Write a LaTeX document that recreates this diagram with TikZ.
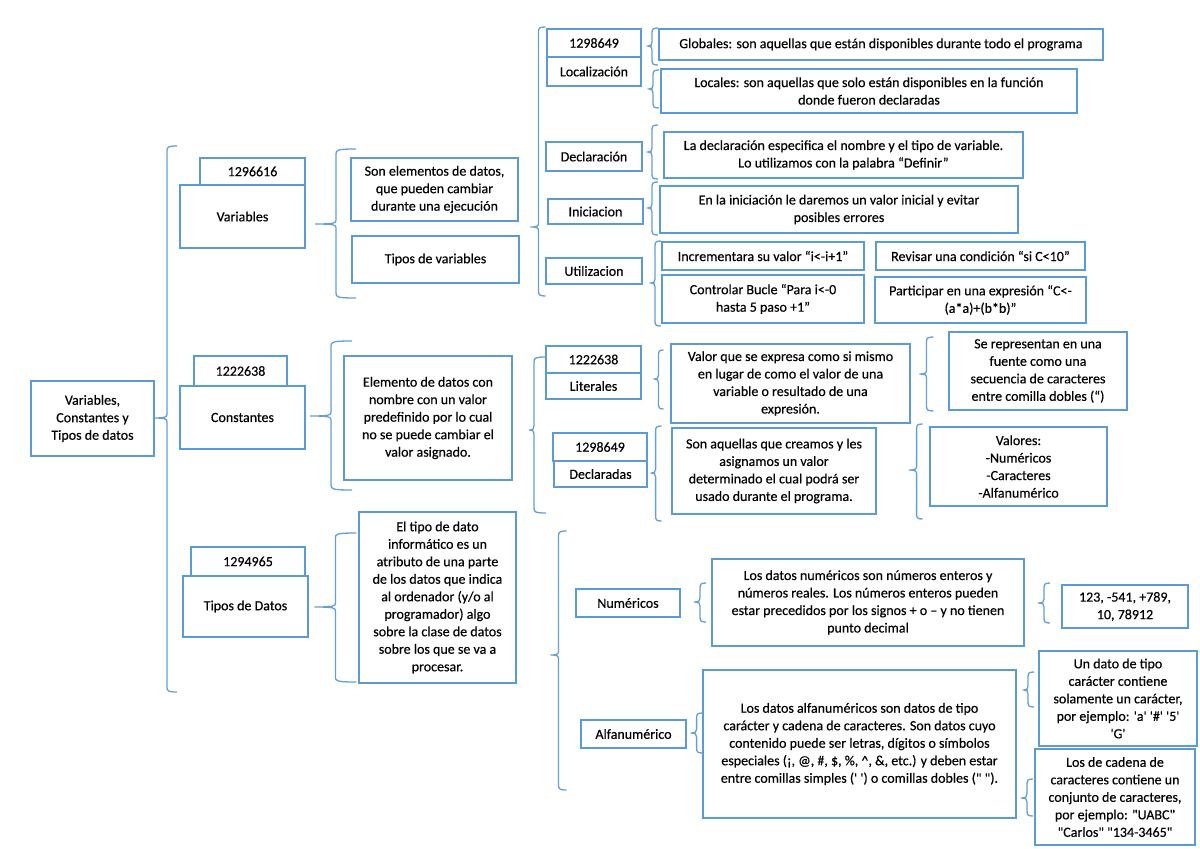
\documentclass[tikz,border=0pt]{standalone}
\usepackage{fontspec}
\setmainfont{Carlito}[FakeBold=0.35]
\definecolor{boxc}{RGB}{91,155,213}
\definecolor{brcc}{RGB}{100,160,215}
\tikzset{
  bx/.style={draw=boxc, line width=2.2pt, rectangle, inner sep=0pt, align=center,
    font=\fontsize{14}{17.5}\selectfont, text=black},
  brc/.style={draw=brcc, line width=1.3pt}
}
\newcommand\bx[6]{\node[bx, minimum width={#4-#2}, minimum height={#5-#3}] (#1) at ({(#2+#4)/2},{(#3+#5)/2}) {#6};}
\newcommand\brc[6]{\draw[brc] ({#1+#5},#2) .. controls ({#1+1},#2) and (#1,{#2+1}) .. (#1,{#2+5})
  -- (#1,{#4-4}) .. controls (#1,{#4-1}) and ({#1-1},#4) .. ({#1-#6},#4)
  .. controls ({#1-1},#4) and (#1,{#4+1}) .. (#1,{#4+4})
  -- (#1,{#3-5}) .. controls (#1,{#3-1}) and ({#1+1},#3) .. ({#1+#5},#3);}
\begin{document}
\begin{tikzpicture}[x=1pt,y=-1pt]
\fill[white] (0,0) rectangle (1200,849);
\useasboundingbox (0,0) rectangle (1200,849);
% braces
\brc{167}{146}{692}{418}{10}{14}
\brc{336}{149}{298}{224}{20}{21}
\brc{538.5}{27}{296}{227}{7}{8}
\brc{652}{28}{65}{46}{6}{4}
\brc{653}{70}{108}{89}{6}{4}
\brc{652}{125}{179}{152}{6}{4}
\brc{652}{182}{235}{208}{6}{4}
\brc{655}{241}{326}{283}{6}{4}
\brc{331}{341}{490}{416}{21}{21}
\brc{534}{357}{513}{430}{12}{5}
\brc{658.5}{350}{409}{379}{5}{5}
\brc{926.5}{337}{411}{374}{7}{7}
\brc{655.6}{426}{521}{473}{6}{5}
\brc{916.6}{424}{519}{470}{6}{8}
\brc{335.4}{533}{682}{607}{21}{21}
\brc{558.5}{531}{790}{655}{8}{8}
\brc{700}{583}{622}{602}{6}{6}
\brc{1044}{583}{623}{603}{6}{6}
\brc{696.6}{713}{753}{733}{6}{6}
\brc{1028}{672}{707}{690}{6}{4}
\brc{1027}{779}{816}{798}{6}{6}
% boxes
\bx{root}{31}{381}{154}{456}{Variables,\\Constantes y\\Tipos de datos}
\bx{nA}{200}{158}{305}{185}{1296616}
\bx{variables}{180}{185}{305}{248}{Variables}
\bx{sonelem}{351}{158}{518}{221}{Son elementos de datos,\\que pueden cambiar\\durante una ejecución}
\bx{tiposvar}{352}{236}{519}{283}{Tipos de variables}
\bx{nB}{547}{29}{641}{57}{1298649}
\bx{localiz}{547}{57}{641}{86}{Localización}
\bx{declar}{546}{142}{642}{171}{Declaración}
\bx{inic}{548}{199}{643}{224}{Iniciacion}
\bx{utiliz}{546}{258}{642}{284}{Utilizacion}
\bx{globales}{659}{29}{1103}{60}{Globales: son aquellas que están disponibles durante todo el programa}
\bx{locales}{661}{69}{1077}{113}{Locales: son aquellas que solo están disponibles en la función\\donde fueron declaradas}
\bx{decltext}{664}{132}{1023}{178}{La declaración especifica el nombre y el tipo de variable.\\Lo utilizamos con la palabra “Definir”}
\bx{inictext}{660}{186}{1018}{233}{En la iniciación le daremos un valor inicial y evitar\\posibles errores}
\bx{incr}{662}{242}{864}{270}{Incrementara su valor “i<-i+1”}
\bx{revisar}{876}{242}{1085}{270}{Revisar una condición “si C<10”}
\bx{controlar}{662}{275}{864}{323}{Controlar Bucle “Para i<-0\\hasta 5 paso +1”}
\bx{particip}{875}{277}{1086}{323}{Participar en una expresión “C<-\\(a*a)+(b*b)”}
\bx{nC}{194}{356}{287}{386}{1222638}
\bx{constantes}{180}{386}{305}{449}{Constantes}
\bx{elemento}{344}{356}{512}{480}{Elemento de datos con\\nombre con un valor\\predefinido por lo cual\\no se puede cambiar el\\valor asignado.}
\bx{nD}{546}{346}{641}{373}{1222638}
\bx{literales}{546}{373}{641}{399}{Literales}
\bx{valor}{671}{344}{910}{423}{Valor que se expresa como si mismo\\en lugar de como el valor de una\\variable o resultado de una\\expresión.}
\bx{serep}{949}{332}{1127}{410}{Se representan en una\\fuente como una\\secuencia de caracteres\\entre comilla dobles (“)}
\bx{nE}{553}{433}{647}{461}{1298649}
\bx{declaradas}{554}{461}{647}{487}{Declaradas}
\bx{sonaquellas}{672}{428}{876}{514}{Son aquellas que creamos y les\\asignamos un valor\\determinado el cual podrá ser\\usado durante el programa.}
\bx{valores}{930}{427}{1107}{506}{Valores:\\-Numéricos\\-Caracteres\\-Alfanumérico}
\bx{nF}{191}{547}{305}{576}{1294965}
\bx{tiposdatos}{183}{576}{308}{637}{Tipos de Datos}
\bx{eltipo}{359}{512}{516}{683}{El tipo de dato\\informático es un\\atributo de una parte\\de los datos que indica\\al ordenador (y/o al\\programador) algo\\sobre la clase de datos\\sobre los que se va a\\procesar.}
\bx{numericos}{576}{589}{680}{617}{Numéricos}
\bx{losnum}{712}{559}{1024}{646}{Los datos numéricos son números enteros y\\números reales. Los números enteros pueden\\estar precedidos por los signos + o – y no tienen\\punto decimal}
\bx{ejnum}{1062}{585}{1188}{628}{123, -541, +789,\\10, 78912}
\bx{alfa}{581}{720}{686}{748}{Alfanumérico}
\bx{losalfa}{703}{670}{1016}{818}{Los datos alfanuméricos son datos de tipo\\carácter y cadena de caracteres. Son datos cuyo\\contenido puede ser letras, dígitos o símbolos\\especiales (¡, @, \#, \$, \%, \textasciicircum, \&, etc.) y deben estar\\entre comillas simples (\textquotesingle\ \textquotesingle) o comillas dobles (\textquotedbl\ \textquotedbl).}
\bx{undato}{1039}{651}{1197}{746}{Un dato de tipo\\carácter contiene\\solamente un carácter,\\por ejemplo: \textquotesingle a\textquotesingle\ \textquotesingle\#\textquotesingle\ \textquotesingle 5\textquotesingle\\\textquotesingle G\textquotesingle}
\bx{cadena}{1035}{749}{1195}{845}{Los de cadena de\\caracteres contiene un\\conjunto de caracteres,\\por ejemplo: \textquotedbl UABC\textquotedbl\\\textquotedbl Carlos\textquotedbl\ \textquotedbl 134-3465\textquotedbl}
\end{tikzpicture}
\end{document}
